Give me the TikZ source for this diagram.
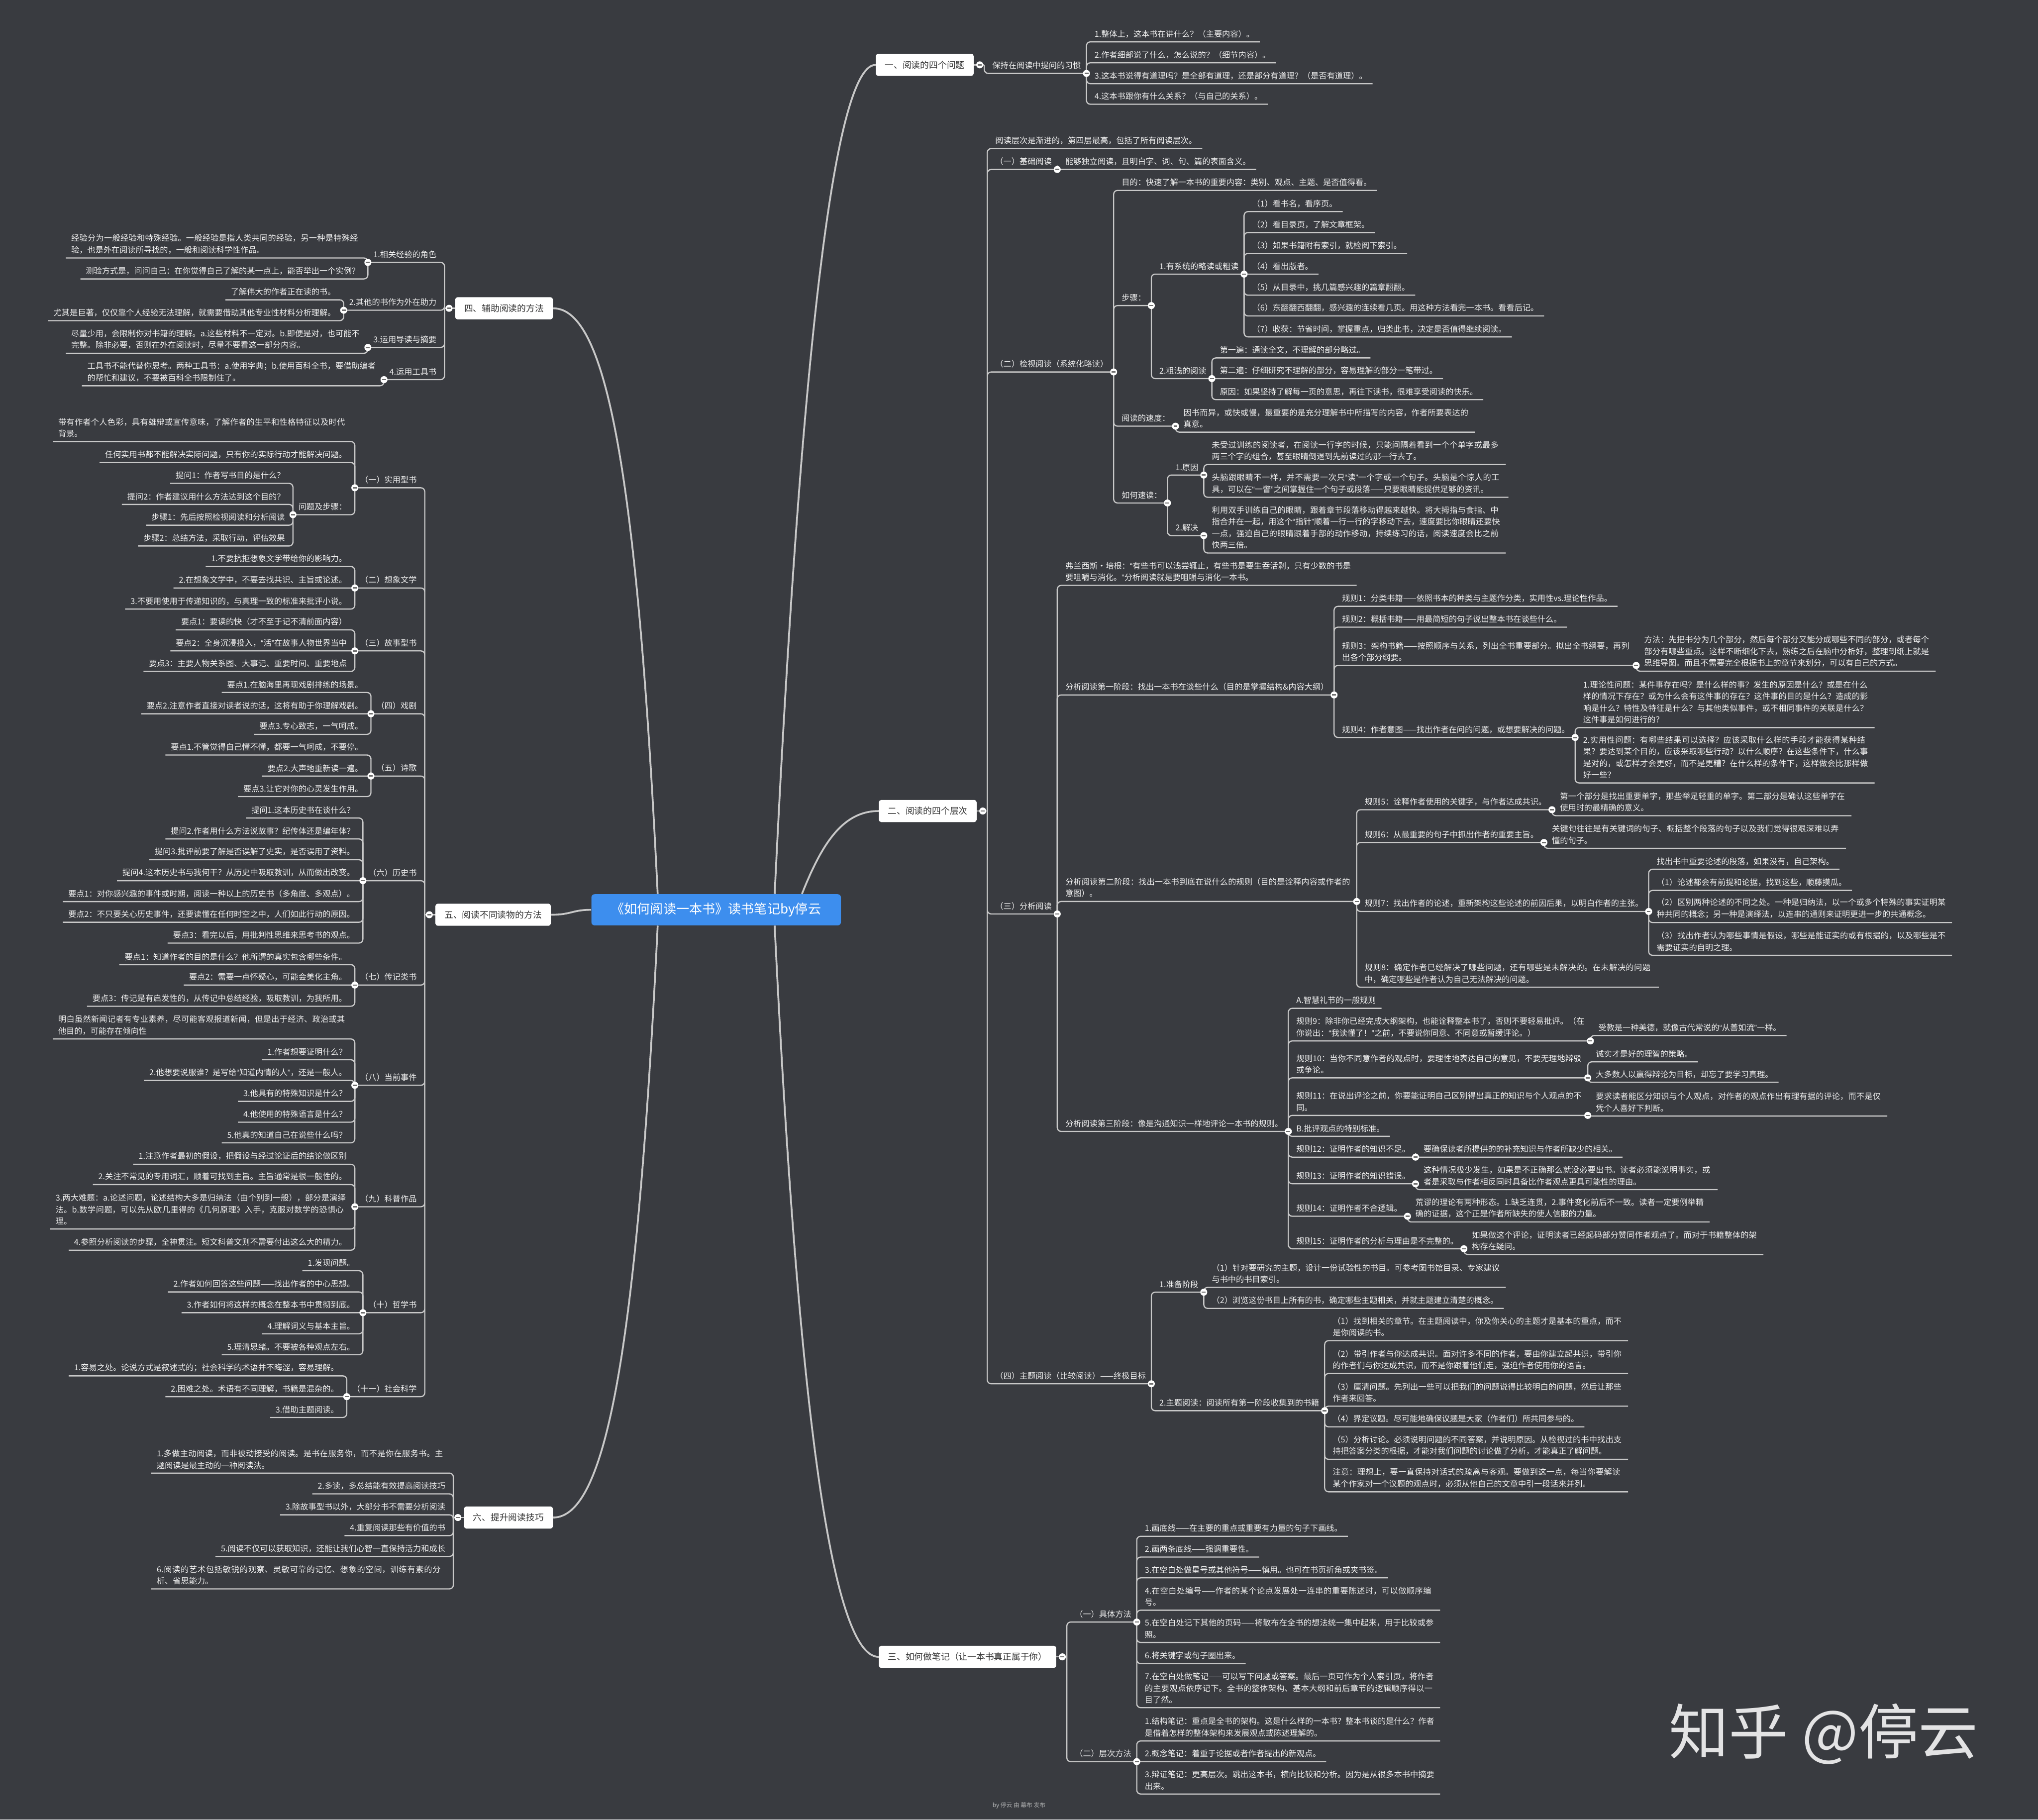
\documentclass[tikz,border=0pt]{standalone}
\usepackage{fontspec}
\newfontfamily\cjk{Noto Sans CJK SC}
\newfontfamily\qf{Liberation Sans}
\newcommand\qo{{\qf “}}
\newcommand\qc{{\qf ”}}
\XeTeXlinebreaklocale "zh"
\XeTeXlinebreakskip=0pt plus 1pt
\definecolor{bgc}{RGB}{57,59,64}
\definecolor{lnc}{RGB}{200,200,200}
\definecolor{txc}{RGB}{240,240,240}
\definecolor{rootc}{RGB}{61,142,238}
\definecolor{boxtx}{RGB}{51,51,51}
\definecolor{knobd}{RGB}{110,110,110}
\tikzset{
 tr/.style={anchor=south west, xshift=2pt, inner xsep=4pt, inner ysep=3pt, text=txc, font=\cjk\fontsize{6.2}{9}\selectfont, align=left},
 tl/.style={anchor=south east, xshift=-2pt, inner xsep=4pt, inner ysep=3pt, text=txc, font=\cjk\fontsize{6.2}{9}\selectfont, align=left},
 ln/.style={draw=lnc, line width=0.9pt, rounded corners=3pt},
 sec/.style={fill=white, rounded corners=1.8pt, text=boxtx, font=\cjk\fontsize{6.8}{8}\selectfont, inner xsep=7pt, minimum height=17pt},
 br/.style={draw=lnc, line width=1.4pt},
}
\newcommand\MR[5][]{%
  \node[tr,#1] (#2) at (#3 |- 0,#4) {#5};
  \draw[ln] (#3) |- (#2.south east);
  \coordinate (#2j) at (#2.south east);}
\newcommand\ML[5][]{%
  \node[tl,#1] (#2) at (#3 |- 0,#4) {#5};
  \draw[ln] (#3) |- (#2.south west);
  \coordinate (#2j) at (#2.south west);}
\newcommand\MK[1]{\fill[white] (#1) circle[radius=2.7pt]; \draw[knobd, line width=1pt] (#1) ++(-1.5pt,0) -- ++(3pt,0);}
\begin{document}
\begin{tikzpicture}[x=1pt,y=-1pt]
\useasboundingbox (0,0) rectangle (1568,1400);
\fill[bgc] (0,0) rectangle (1568,1400);
% root and sections
\node[fill=rootc, rounded corners=2.5pt, text=white, font=\cjk\fontsize{10}{12}\selectfont, minimum width=192pt, minimum height=24pt] (root) at (551,700) {《如何阅读一本书》读书笔记by停云};
\node[sec, anchor=west] (s1) at (673.7,49.9) {一、阅读的四个问题};
\node[sec, anchor=west] (s2) at (676,624) {二、阅读的四个层次};
\node[sec, anchor=west] (s3) at (676,1274.8) {三、如何做笔记（让一本书真正属于你）};
\node[sec, anchor=east] (s4) at (425.6,237.2) {四、辅助阅读的方法};
\node[sec, anchor=east] (s5) at (424,703.8) {五、阅读不同读物的方法};
\node[sec, anchor=east] (s6) at (425.6,1167.6) {六、提升阅读技巧};
\draw[br] ([xshift=45pt]root.north) .. controls (612,360) and (636,49.9) .. (s1.west);
\draw[br] ([xshift=66pt]root.north) .. controls (632,650) and (648,624) .. (s2.west);
\draw[br] ([xshift=45pt]root.south) .. controls (612,1040) and (636,1274.8) .. (s3.west);
\draw[br] ([xshift=-45pt]root.north) .. controls (490,360) and (466,237.2) .. (s4.east);
\draw[br] (root.west) .. controls (440,700) and (440,703.8) .. (s5.east);
\draw[br] ([xshift=-45pt]root.south) .. controls (490,1040) and (466,1167.6) .. (s6.east);
\foreach \s in {s1,s2,s3}{\coordinate (\s j) at ([xshift=8pt]\s.east); \coordinate (\s k) at ([xshift=4.5pt]\s.east); \draw[ln] (\s.east) -- (\s j);}
\foreach \s in {s4,s5,s6}{\coordinate (\s j) at ([xshift=-8pt]\s.west); \coordinate (\s k) at ([xshift=-4.5pt]\s.west); \draw[ln] (\s.west) -- (\s j);}
% ===== section 1
\MR{a0}{s1j}{56.5}{保持在阅读中提问的习惯}
\MR{a1}{a0j}{32.2}{1.整体上，这本书在讲什么？（主要内容）。}
\MR{a2}{a0j}{48.3}{2.作者细部说了什么，怎么说的？（细节内容）。}
\MR{a3}{a0j}{64.4}{3.这本书说得有道理吗？是全部有道理，还是部分有道理？（是否有道理）。}
\MR{a4}{a0j}{80.2}{4.这本书跟你有什么关系？（与自己的关系）。}
% ===== section 2
\MR{b1}{s2j}{114.3}{阅读层次是渐进的，第四层最高，包括了所有阅读层次。}
\MR{b2}{s2j}{130.4}{（一）基础阅读}
\MR{b2a}{b2j}{130.4}{能够独立阅读，且明白字、词、句、篇的表面含义。}
\MR{b3}{s2j}{286.2}{（二）检视阅读（系统化略读）}
\MR{b3a}{b3j}{146.5}{目的：快速了解一本书的重要内容：类别、观点、主题、是否值得看。}
\MR{b3b}{b3j}{235.1}{步骤：}
\MR{b3b1}{b3bj}{210.9}{1.有系统的略读或粗读}
\MR{c1}{b3b1j}{162.8}{（1）看书名，看序页。}
\MR{c2}{b3b1j}{178.9}{（2）看目录页，了解文章框架。}
\MR{c3}{b3b1j}{195}{（3）如果书籍附有索引，就检阅下索引。}
\MR{c4}{b3b1j}{210.9}{（4）看出版者。}
\MR{c5}{b3b1j}{227.1}{（5）从目录中，挑几篇感兴趣的篇章翻翻。}
\MR{c6}{b3b1j}{243.1}{（6）东翻翻西翻翻，感兴趣的连续看几页。用这种方法看完一本书。看看后记。}
\MR{c7}{b3b1j}{259.2}{（7）收获：节省时间，掌握重点，归类此书，决定是否值得继续阅读。}
\MR{b3b2}{b3bj}{291.3}{2.粗浅的阅读}
\MR{d1}{b3b2j}{275.4}{第一遍：通读全文，不理解的部分略过。}
\MR{d2}{b3b2j}{291.3}{第二遍：仔细研究不理解的部分，容易理解的部分一笔带过。}
\MR{d3}{b3b2j}{307.5}{原因：如果坚持了解每一页的意思，再往下读书，很难享受阅读的快乐。}
\MR{b3c}{b3j}{327.9}{阅读的速度：}
\MR[text width=220pt]{b3c1}{b3cj}{332.5}{因书而异，或快或慢，最重要的是充分理解书中所描写的内容，作者所要表达的真意。}
\MR{b3d}{b3j}{387}{如何速读：}
\MR{b3d1}{b3dj}{365.5}{1.原因}
\MR[text width=222pt]{e1}{b3d1j}{357.4}{未受过训练的阅读者，在阅读一行字的时候，只能间隔着看到一个个单字或最多两三个字的组合，甚至眼睛倒退到先前读过的那一行去了。}
\MR[text width=224pt]{e2}{b3d1j}{382.6}{头脑跟眼睛不一样，并不需要一次只\qo 读\qc 一个字或一个句子。头脑是个惊人的工具，可以在\qo 一瞥\qc 之间掌握住一个句子或段落——只要眼睛能提供足够的资讯。}
\MR{b3d2}{b3dj}{412.1}{2.解决}
\MR[text width=222pt]{e3}{b3d2j}{425.5}{利用双手训练自己的眼睛，跟着章节段落移动得越来越快。将大拇指与食指、中指合并在一起，用这个\qo 指针\qc 顺着一行一行的字移动下去，速度要比你眼睛还要快一点，强迫自己的眼睛跟着手部的动作移动，持续练习的话，阅读速度会比之前快两三倍。}
\MR{b4}{s2j}{703.2}{（三）分析阅读}
\MR[text width=220pt]{f0}{b4j}{450.4}{弗兰西斯•培根：\qo 有些书可以浅尝辄止，有些书是要生吞活剥，只有少数的书是要咀嚼与消化。\qc 分析阅读就是要咀嚼与消化一本书。}
\MR{f1}{b4j}{534.7}{分析阅读第一阶段：找出一本书在谈些什么（目的是掌握结构\&内容大纲）}
\MR{g1}{f1j}{466.5}{规则1：分类书籍——依照书本的种类与主题作分类，实用性vs.理论性作品。}
\MR{g2}{f1j}{482.5}{规则2：概括书籍——用最简短的句子说出整本书在谈些什么。}
\MR[text width=222pt]{g3}{f1j}{512}{规则3：架构书籍——按照顺序与关系，列出全书重要部分。拟出全书纲要，再列出各个部分纲要。}
\MR[text width=220pt]{g3a}{g3j}{516.4}{方法：先把书分为几个部分，然后每个部分又能分成哪些不同的部分，或者每个部分有哪些重点。这样不断细化下去，熟练之后在脑中分析好，整理到纸上就是思维导图。而且不需要完全根据书上的章节来划分，可以有自己的方式。}
\MR{g4}{f1j}{567.4}{规则4：作者意图——找出作者在问的问题，或想要解决的问题。}
\MR[text width=220pt]{g4a}{g4j}{559.8}{1.理论性问题：某件事存在吗？是什么样的事？发生的原因是什么？或是在什么样的情况下存在？或为什么会有这件事的存在？这件事的目的是什么？造成的影响是什么？特性及特征是什么？与其他类似事件，或不相同事件的关联是什么？这件事是如何进行的？}
\MR[text width=220pt]{g4b}{g4j}{602.4}{2.实用性问题：有哪些结果可以选择？应该采取什么样的手段才能获得某种结果？要达到某个目的，应该采取哪些行动？以什么顺序？在这些条件下，什么事是对的，或怎样才会更好，而不是更糟？在什么样的条件下，这样做会比那样做好一些？}
\MR[text width=220pt]{f2}{b4j}{693.6}{分析阅读第二阶段：找出一本书到底在说什么的规则（目的是诠释内容或作者的意图）。}
\MR{h5}{f2j}{623}{规则5：诠释作者使用的关键字，与作者达成共识。}
\MR[text width=220pt]{h5a}{h5j}{627.6}{第一个部分是找出重要单字，那些举足轻重的单字。第二部分是确认这些单字在使用时的最精确的意义。}
\MR{h6}{f2j}{648.2}{规则6：从最重要的句子中抓出作者的重要主旨。}
\MR[text width=222pt]{h6a}{h6j}{652.7}{关键句往往是有关键词的句子、概括整个段落的句子以及我们觉得很艰深难以弄懂的句子。}
\MR{h7}{f2j}{701.3}{规则7：找出作者的论述，重新架构这些论述的前因后果，以明白作者的主张。}
\MR{h7a}{h7j}{668.8}{找出书中重要论述的段落，如果没有，自己架构。}
\MR{h7b}{h7j}{685.1}{（1）论述都会有前提和论据，找到这些，顺藤摸瓜。}
\MR[text width=223pt]{h7c}{h7j}{709.8}{（2）区别两种论述的不同之处。一种是归纳法，以一个或多个特殊的事实证明某种共同的概念；另一种是演绎法，以连串的通则来证明更进一步的共通概念。}
\MR[text width=223pt]{h7d}{h7j}{735}{（3）找出作者认为哪些事情是假设，哪些是能证实的或有根据的，以及哪些是不需要证实的自明之理。}
\MR[text width=222pt]{h8}{f2j}{759.6}{规则8：确定作者已经解决了哪些问题，还有哪些是未解决的。在未解决的问题中，确定哪些是作者认为自己无法解决的问题。}
\MR{f3}{b4j}{870.5}{分析阅读第三阶段：像是沟通知识一样地评论一本书的规则。}
\MR{i1}{f3j}{775.8}{A.智慧礼节的一般规则}
\MR[text width=222pt]{i2}{f3j}{800.9}{规则9：除非你已经完成大纲架构，也能诠释整本书了，否则不要轻易批评。（在你说出：\qo 我读懂了！\qc 之前，不要说你同意、不同意或暂缓评论。）}
\MR{i2a}{i2j}{796.7}{受教是一种美德，就像古代常说的\qo 从善如流\qc 一样。}
\MR[text width=220pt]{i3}{f3j}{829.3}{规则10：当你不同意作者的观点时，要理性地表达自己的意见，不要无理地辩驳或争论。}
\MR{i3a}{i3j}{817}{诚实才是好的理智的策略。}
\MR{i3b}{i3j}{832.7}{大多数人以赢得辩论为目标，却忘了要学习真理。}
\MR[text width=220pt]{i4}{f3j}{858.2}{规则11：在说出评论之前，你要能证明自己区别得出真正的知识与个人观点的不同。}
\MR[text width=220pt]{i4a}{i4j}{858.7}{要求读者能区分知识与个人观点，对作者的观点作出有理有据的评论，而不是仅凭个人喜好下判断。}
\MR{i5}{f3j}{874.3}{B.批评观点的特别标准。}
\MR{i6}{f3j}{890.3}{规则12：证明作者的知识不足。}
\MR{i6a}{i6j}{890.3}{要确保读者所提供的的补充知识与作者所缺少的相关。}
\MR{i7}{f3j}{910.8}{规则13：证明作者的知识错误。}
\MR[text width=222pt]{i7a}{i7j}{915.3}{这种情况极少发生，如果是不正确那么就没必要出书。读者必须能说明事实，或者是采取与作者相反同时具备比作者观点更具可能性的理由。}
\MR{i8}{f3j}{935.8}{规则14：证明作者不合逻辑。}
\MR[text width=222pt]{i8a}{i8j}{940.2}{荒谬的理论有两种形态。1.缺乏连贯，2.事件变化前后不一致。读者一定要例举精确的证据，这个正是作者所缺失的使人信服的力量。}
\MR{i9}{f3j}{960.8}{规则15：证明作者的分析与理由是不完整的。}
\MR[text width=220pt]{i9a}{i9j}{965.2}{如果做这个评论，证明读者已经起码部分赞同作者观点了。而对于书籍整体的架构存在疑问。}
\MR{b5}{s2j}{1064.7}{（四）主题阅读（比较阅读）——终极目标}
\MR{j1}{b5j}{994.2}{1.准备阶段}
\MR[text width=222pt]{j1a}{j1j}{990.5}{（1）针对要研究的主题，设计一份试验性的书目。可参考图书馆目录、专家建议与书中的书目索引。}
\MR{j1b}{j1j}{1006.7}{（2）浏览这份书目上所有的书，确定哪些主题相关，并就主题建立清楚的概念。}
\MR{j2}{b5j}{1085.4}{2.主题阅读：阅读所有第一阶段收集到的书籍}
\MR[text width=223pt]{k1}{j2j}{1031.5}{（1）找到相关的章节。在主题阅读中，你及你关心的主题才是基本的重点，而不是你阅读的书。}
\MR[text width=223pt]{k2}{j2j}{1056.8}{（2）带引作者与你达成共识。面对许多不同的作者，要由你建立起共识，带引你的作者们与你达成共识，而不是你跟着他们走，强迫作者使用你的语言。}
\MR[text width=223pt]{k3}{j2j}{1081.9}{（3）厘清问题。先列出一些可以把我们的问题说得比较明白的问题，然后让那些作者来回答。}
\MR{k4}{j2j}{1097.8}{（4）界定议题。尽可能地确保议题是大家（作者们）所共同参与的。}
\MR[text width=223pt]{k5}{j2j}{1122.8}{（5）分析讨论。必须说明问题的不同答案，并说明原因。从检视过的书中找出支持把答案分类的根据，才能对我们问题的讨论做了分析，才能真正了解问题。}
\MR[text width=223pt]{k6}{j2j}{1147.8}{注意：理想上，要一直保持对话式的疏离与客观。要做到这一点，每当你要解读某个作家对一个议题的观点时，必须从他自己的文章中引一段话来并列。}
% ===== section 3
\MR{m1}{s3j}{1248}{（一）具体方法}
\MR{m1a}{m1j}{1182}{1.画底线——在主要的重点或重要有力量的句子下画线。}
\MR{m1b}{m1j}{1198}{2.画两条底线——强调重要性。}
\MR{m1c}{m1j}{1214}{3.在空白处做星号或其他符号——慎用。也可在书页折角或夹书签。}
\MR[text width=223pt]{m1d}{m1j}{1238.9}{4.在空白处编号——作者的某个论点发展处一连串的重要陈述时，可以做顺序编号。}
\MR[text width=223pt]{m1e}{m1j}{1263.7}{5.在空白处记下其他的页码——将散布在全书的想法统一集中起来，用于比较或参照。}
\MR{m1f}{m1j}{1280}{6.将关键字或句子圈出来。}
\MR[text width=223pt]{m1g}{m1j}{1313.9}{7.在空白处做笔记——可以写下问题或答案。最后一页可作为个人索引页，将作者的主要观点依序记下。全书的整体架构、基本大纲和前后章节的逻辑顺序得以一目了然。}
\MR{m2}{s3j}{1355.4}{（二）层次方法}
\MR[text width=223pt]{m2a}{m2j}{1339.5}{1.结构笔记：重点是全书的架构。这是什么样的一本书？整本书谈的是什么？作者是借着怎样的整体架构来发展观点或陈述理解的。}
\MR{m2b}{m2j}{1355.4}{2.概念笔记：着重于论据或者作者提出的新观点。}
\MR[text width=223pt]{m2c}{m2j}{1380.3}{3.辩证笔记：更高层次。跳出这本书，横向比较和分析。因为是从很多本书中摘要出来。}
% ===== section 4
\ML{n1}{s4j}{201.9}{1.相关经验的角色}
\ML[text width=222pt]{n1a}{n1j}{198.5}{经验分为一般经验和特殊经验。一般经验是指人类共同的经验，另一种是特殊经验，也是外在阅读所寻找的，一般和阅读科学性作品。}
\ML{n1b}{n1j}{214.6}{测验方式是，问问自己：在你觉得自己了解的某一点上，能否举出一个实例？}
\ML{n2}{s4j}{238.7}{2.其他的书作为外在助力}
\ML{n2a}{n2j}{230.7}{了解伟大的作者正在读的书。}
\ML{n2b}{n2j}{246.7}{尤其是巨著，仅仅靠个人经验无法理解，就需要借助其他专业性材料分析理解。}
\ML{n3}{s4j}{267.3}{3.运用导读与摘要}
\ML[text width=222pt]{n3a}{n3j}{271.8}{尽量少用，会限制你对书籍的理解。a.这些材料不一定对。b.即便是对，也可能不完整。除非必要，否则在外在阅读时，尽量不要看这一部分内容。}
\ML{n4}{s4j}{292.1}{4.运用工具书}
\ML[text width=222pt]{n4a}{n4j}{296.8}{工具书不能代替你思考。两种工具书：a.使用字典；b.使用百科全书，要借助编者的帮忙和建议，不要被百科全书限制住了。}
% ===== section 5
\ML{p1}{s5j}{375.3}{（一）实用型书}
\ML[text width=222pt]{p1a}{p1j}{339.7}{带有作者个人色彩，具有雄辩或宣传意味，了解作者的生平和性格特征以及时代背景。}
\ML{p1b}{p1j}{355.9}{任何实用书都不能解决实际问题，只有你的实际行动才能解决问题。}
\ML{p1c}{p1j}{396}{问题及步骤：}
\ML{p1c1}{p1cj}{371.9}{提问1：作者写书目的是什么？}
\ML{p1c2}{p1cj}{388.1}{提问2：作者建议用什么方法达到这个目的？}
\ML{p1c3}{p1cj}{404.1}{步骤1：先后按照检视阅读和分析阅读}
\ML{p1c4}{p1cj}{420.1}{步骤2：总结方法，采取行动，评估效果}
\ML{p2}{s5j}{452.4}{（二）想象文学}
\ML{p2a}{p2j}{435.9}{1.不要抗拒想象文学带给你的影响力。}
\ML{p2b}{p2j}{452.4}{2.在想象文学中，不要去找共识、主旨或论述。}
\ML{p2c}{p2j}{468.6}{3.不要用使用于传递知识的，与真理一致的标准来批评小说。}
\ML{p3}{s5j}{500.8}{（三）故事型书}
\ML{p3a}{p3j}{484.6}{要点1：要读的快（才不至于记不清前面内容）}
\ML{p3b}{p3j}{500.8}{要点2：全身沉浸投入，\qo 活\qc 在故事人物世界当中}
\ML{p3c}{p3j}{516.6}{要点3：主要人物关系图、大事记、重要时间、重要地点}
\ML{p4}{s5j}{549.2}{（四）戏剧}
\ML{p4a}{p4j}{532.8}{要点1.在脑海里再现戏剧排练的场景。}
\ML{p4b}{p4j}{549.2}{要点2.注意作者直接对读者说的话，这将有助于你理解戏剧。}
\ML{p4c}{p4j}{565}{要点3.专心致志，一气呵成。}
\ML{p5}{s5j}{597.1}{（五）诗歌}
\ML{p5a}{p5j}{580.9}{要点1.不管觉得自己懂不懂，都要一气呵成，不要停。}
\ML{p5b}{p5j}{597.1}{要点2.大声地重新读一遍。}
\ML{p5c}{p5j}{612.9}{要点3.让它对你的心灵发生作用。}
\ML{p6}{s5j}{677.6}{（六）历史书}
\ML{p6a}{p6j}{629.4}{提问1.这本历史书在谈什么？}
\ML{p6b}{p6j}{645.5}{提问2.作者用什么方法说故事？纪传体还是编年体？}
\ML{p6c}{p6j}{661.5}{提问3.批评前要了解是否误解了史实，是否误用了资料。}
\ML{p6d}{p6j}{677.6}{提问4.这本历史书与我何干？从历史中吸取教训，从而做出改变。}
\ML{p6e}{p6j}{693.7}{要点1：对你感兴趣的事件或时期，阅读一种以上的历史书（多角度、多观点）。}
\ML{p6f}{p6j}{709.6}{要点2：不只要关心历史事件，还要读懂在任何时空之中，人们如此行动的原因。}
\ML{p6g}{p6j}{725.6}{要点3：看完以后，用批判性思维来思考书的观点。}
\ML{p7}{s5j}{757.9}{（七）传记类书}
\ML{p7a}{p7j}{742.2}{要点1：知道作者的目的是什么？他所谓的真实包含哪些条件。}
\ML{p7b}{p7j}{757.9}{要点2：需要一点怀疑心，可能会美化主角。}
\ML{p7c}{p7j}{774.2}{要点3：传记是有启发性的，从传记中总结经验，吸取教训，为我所用。}
\ML{p8}{s5j}{835}{（八）当前事件}
\ML[text width=222pt]{p8a}{p8j}{799.4}{明白虽然新闻记者有专业素养，尽可能客观报道新闻，但是出于经济、政治或其他目的，可能存在倾向性}
\ML{p8b}{p8j}{815.4}{1.作者想要证明什么？}
\ML{p8c}{p8j}{831.3}{2.他想要说服谁？是写给\qo 知道内情的人\qc ，还是一般人。}
\ML{p8d}{p8j}{847.4}{3.他具有的特殊知识是什么？}
\ML{p8e}{p8j}{863.4}{4.他使用的特殊语言是什么？}
\ML{p8f}{p8j}{879.3}{5.他真的知道自己在说些什么吗？}
\ML{p9}{s5j}{928.5}{（九）科普作品}
\ML{p9a}{p9j}{895.8}{1.注意作者最初的假设，把假设与经过论证后的结论做区别}
\ML{p9b}{p9j}{911.4}{2.关注不常见的专用词汇，顺着可找到主旨。主旨通常是很一般性的。}
\ML[text width=224pt]{p9c}{p9j}{945.6}{3.两大难题：a.论述问题，论述结构大多是归纳法（由个别到一般），部分是演绎法。b.数学问题，可以先从欧几里得的《几何原理》入手，克服对数学的恐惧心理。}
\ML{p9d}{p9j}{961.9}{4.参照分析阅读的步骤，全神贯注。短文科普文则不需要付出这么大的精力。}
\ML{p10}{s5j}{1010}{（十）哲学书}
\ML{p10a}{p10j}{977.7}{1.发现问题。}
\ML{p10b}{p10j}{994}{2.作者如何回答这些问题——找出作者的中心思想。}
\ML{p10c}{p10j}{1010}{3.作者如何将这样的概念在整本书中贯彻到底。}
\ML{p10d}{p10j}{1026.2}{4.理解词义与基本主旨。}
\ML{p10e}{p10j}{1042.3}{5.理清思绪。不要被各种观点左右。}
\ML{p11}{s5j}{1074.6}{（十一）社会科学}
\ML{p11a}{p11j}{1058.6}{1.容易之处。论说方式是叙述式的；社会科学的术语并不晦涩，容易理解。}
\ML{p11b}{p11j}{1074.6}{2.困难之处。术语有不同理解，书籍是混杂的。}
\ML{p11c}{p11j}{1090.6}{3.借助主题阅读。}
% ===== section 6
\ML[text width=222pt]{q1}{s6j}{1133.4}{1.多做主动阅读，而非被动接受的阅读。是书在服务你，而不是你在服务书。主题阅读是最主动的一种阅读法。}
\ML{q2}{s6j}{1149.4}{2.多读，多总结能有效提高阅读技巧}
\ML{q3}{s6j}{1165.5}{3.除故事型书以外，大部分书不需要分析阅读}
\ML{q4}{s6j}{1181.5}{4.重复阅读那些有价值的书}
\ML{q5}{s6j}{1197.5}{5.阅读不仅可以获取知识，还能让我们心智一直保持活力和成长}
\ML[text width=222pt]{q6}{s6j}{1222.5}{6.阅读的艺术包括敏锐的观察、灵敏可靠的记忆、想象的空间，训练有素的分析、省思能力。}
% ===== knobs
\foreach \k in {s1k,s2k,s3k,s4k,s5k,s6k,a0j,b2j,b3j,b3bj,b3b1j,b3b2j,b3cj,b3dj,b3d1j,b3d2j,b4j,f1j,g3j,g4j,f2j,h5j,h6j,h7j,f3j,i2j,i3j,i4j,i6j,i7j,i8j,i9j,b5j,j1j,j2j,m1j,m2j,n1j,n2j,n3j,n4j,p1j,p1cj,p2j,p3j,p4j,p5j,p6j,p7j,p8j,p9j,p10j,p11j}{\MK{\k}}
% ===== watermark and footer
\node[font=\cjk\fontsize{46}{50}\selectfont, text=white!86!bgc] (wm) at (1403,1334) {知乎 @停云};
\node[font=\cjk\fontsize{4.5}{5}\selectfont, text=white!60!bgc] (ft) at (784,1389) {by 停云 由 幕布 发布};
\end{tikzpicture}
\end{document}
